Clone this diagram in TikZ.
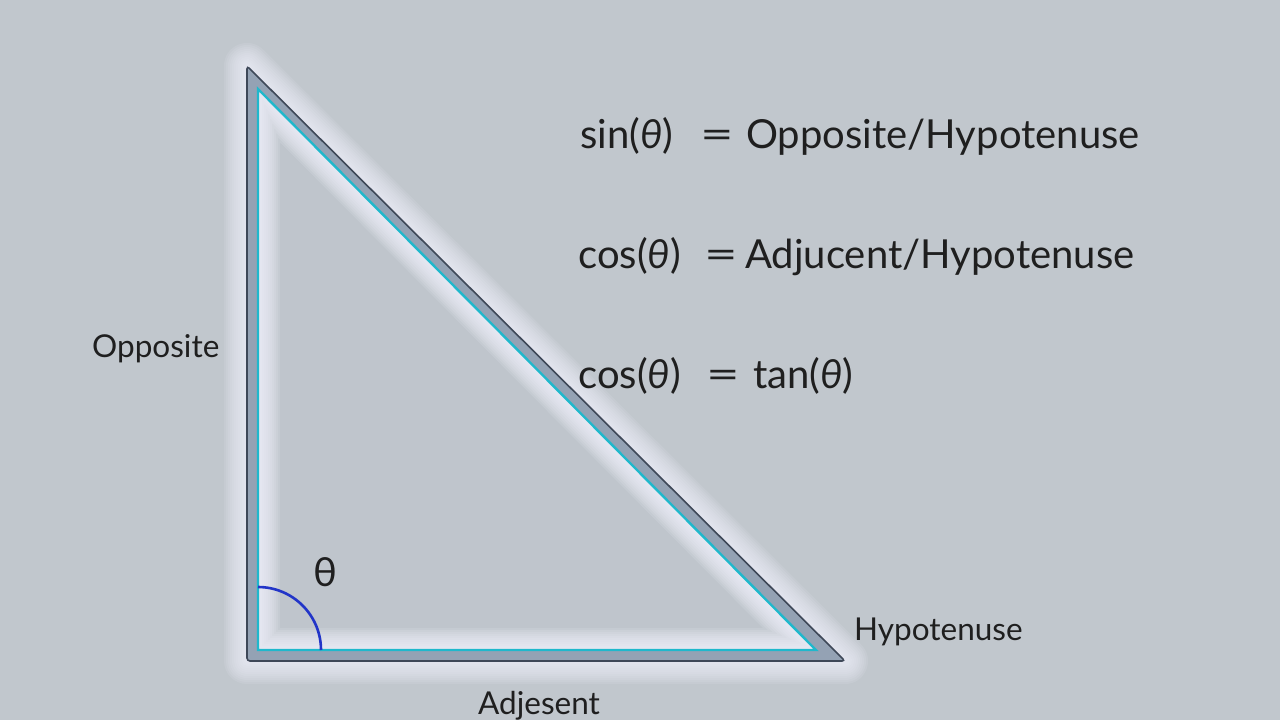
\documentclass[tikz,border=0pt]{standalone}
\usepackage{fontspec}
\usepackage{graphicx}
\setmainfont{Lato}
\begin{document}
\begin{tikzpicture}[x=1pt,y=-1pt,
  eqtext/.style={anchor=base west,inner sep=0pt,font=\fontsize{40}{46}\selectfont,text=black!88},
  eqsign/.style={anchor=base,inner sep=0pt,font=\fontsize{40}{46}\selectfont,text=black!88},
  sidelabel/.style={inner sep=0pt,font=\fontsize{31.5}{36}\selectfont,text=black!88},
  glowline/.style={draw=glow,line join=round,line cap=round}]
\definecolor{bg}{HTML}{C1C7CD}
\definecolor{band}{HTML}{94A2B4}
\definecolor{bandedge}{HTML}{3E4858}
\definecolor{inner}{HTML}{BFC5CC}
\definecolor{glow}{HTML}{F4F5FF}
\definecolor{cyanedge}{HTML}{1FB8CC}
\definecolor{arcblue}{HTML}{2235C8}
\fill[bg] (0,0) rectangle (1280,720);
\useasboundingbox (0,0) rectangle (1280,720);
% outer triangle
\coordinate (A) at (247,66);
\coordinate (B) at (247,661);
\coordinate (C) at (845,661);
% inner triangle
\coordinate (a) at (258,89);
\coordinate (b) at (258,650);
\coordinate (c) at (816,650);
% outer glow
\foreach \w in {46,42,...,6}{
  \draw[glowline,line width=\w,opacity=0.1] (A) -- (B) -- (C) -- cycle;
}
% band
\filldraw[fill=band,draw=bandedge,line width=1.6,rounded corners=3] (A) -- (B) -- (C) -- cycle;
% interior with inner glow
\fill[inner] (a) -- (b) -- (c) -- cycle;
\begin{scope}
  \clip (a) -- (b) -- (c) -- cycle;
  \foreach \w in {44,40,...,4}{
    \draw[glowline,line width=\w,opacity=0.13] (a) -- (b) -- (c) -- cycle;
  }
\end{scope}
\draw[cyanedge,line width=2.4,line join=miter] (a) -- (b) -- (c) -- cycle;
% angle arc
\draw[arcblue,line width=2.6] (258,587) arc[start angle=-90,end angle=0,radius=63];
% labels
\node[inner sep=0pt,font=\fontsize{40}{46}\selectfont,text=black!88] (th) at (325,572) {θ};
\node[sidelabel,anchor=west] (opp) at (92,349) {Opposite};
\node[sidelabel,anchor=west] (hyp) at (854,632) {Hypotenuse};
\node[sidelabel,anchor=base west] (adj) at (478,714) {Adjesent};
% equations
\node[eqtext] (e1l) at (580,148) {sin(\textit{θ})};
\node[eqsign] (e1eq) at (717,148) {\scalebox{1.45}[1]{=}};
\node[eqtext] (e1r) at (746,148) {Opposite/Hypotenuse};
\node[eqtext] (e2l) at (578,268) {cos(\textit{θ})};
\node[eqsign] (e2eq) at (721,268) {\scalebox{1.45}[1]{=}};
\node[eqtext] (e2r) at (745,268) {Adjucent/Hypotenuse};
\node[eqtext] (e3l) at (578,388) {cos(\textit{θ})};
\node[eqsign] (e3eq) at (723,388) {\scalebox{1.45}[1]{=}};
\node[eqtext] (e3r) at (753,388) {tan(\textit{θ})};
\end{tikzpicture}
\end{document}
